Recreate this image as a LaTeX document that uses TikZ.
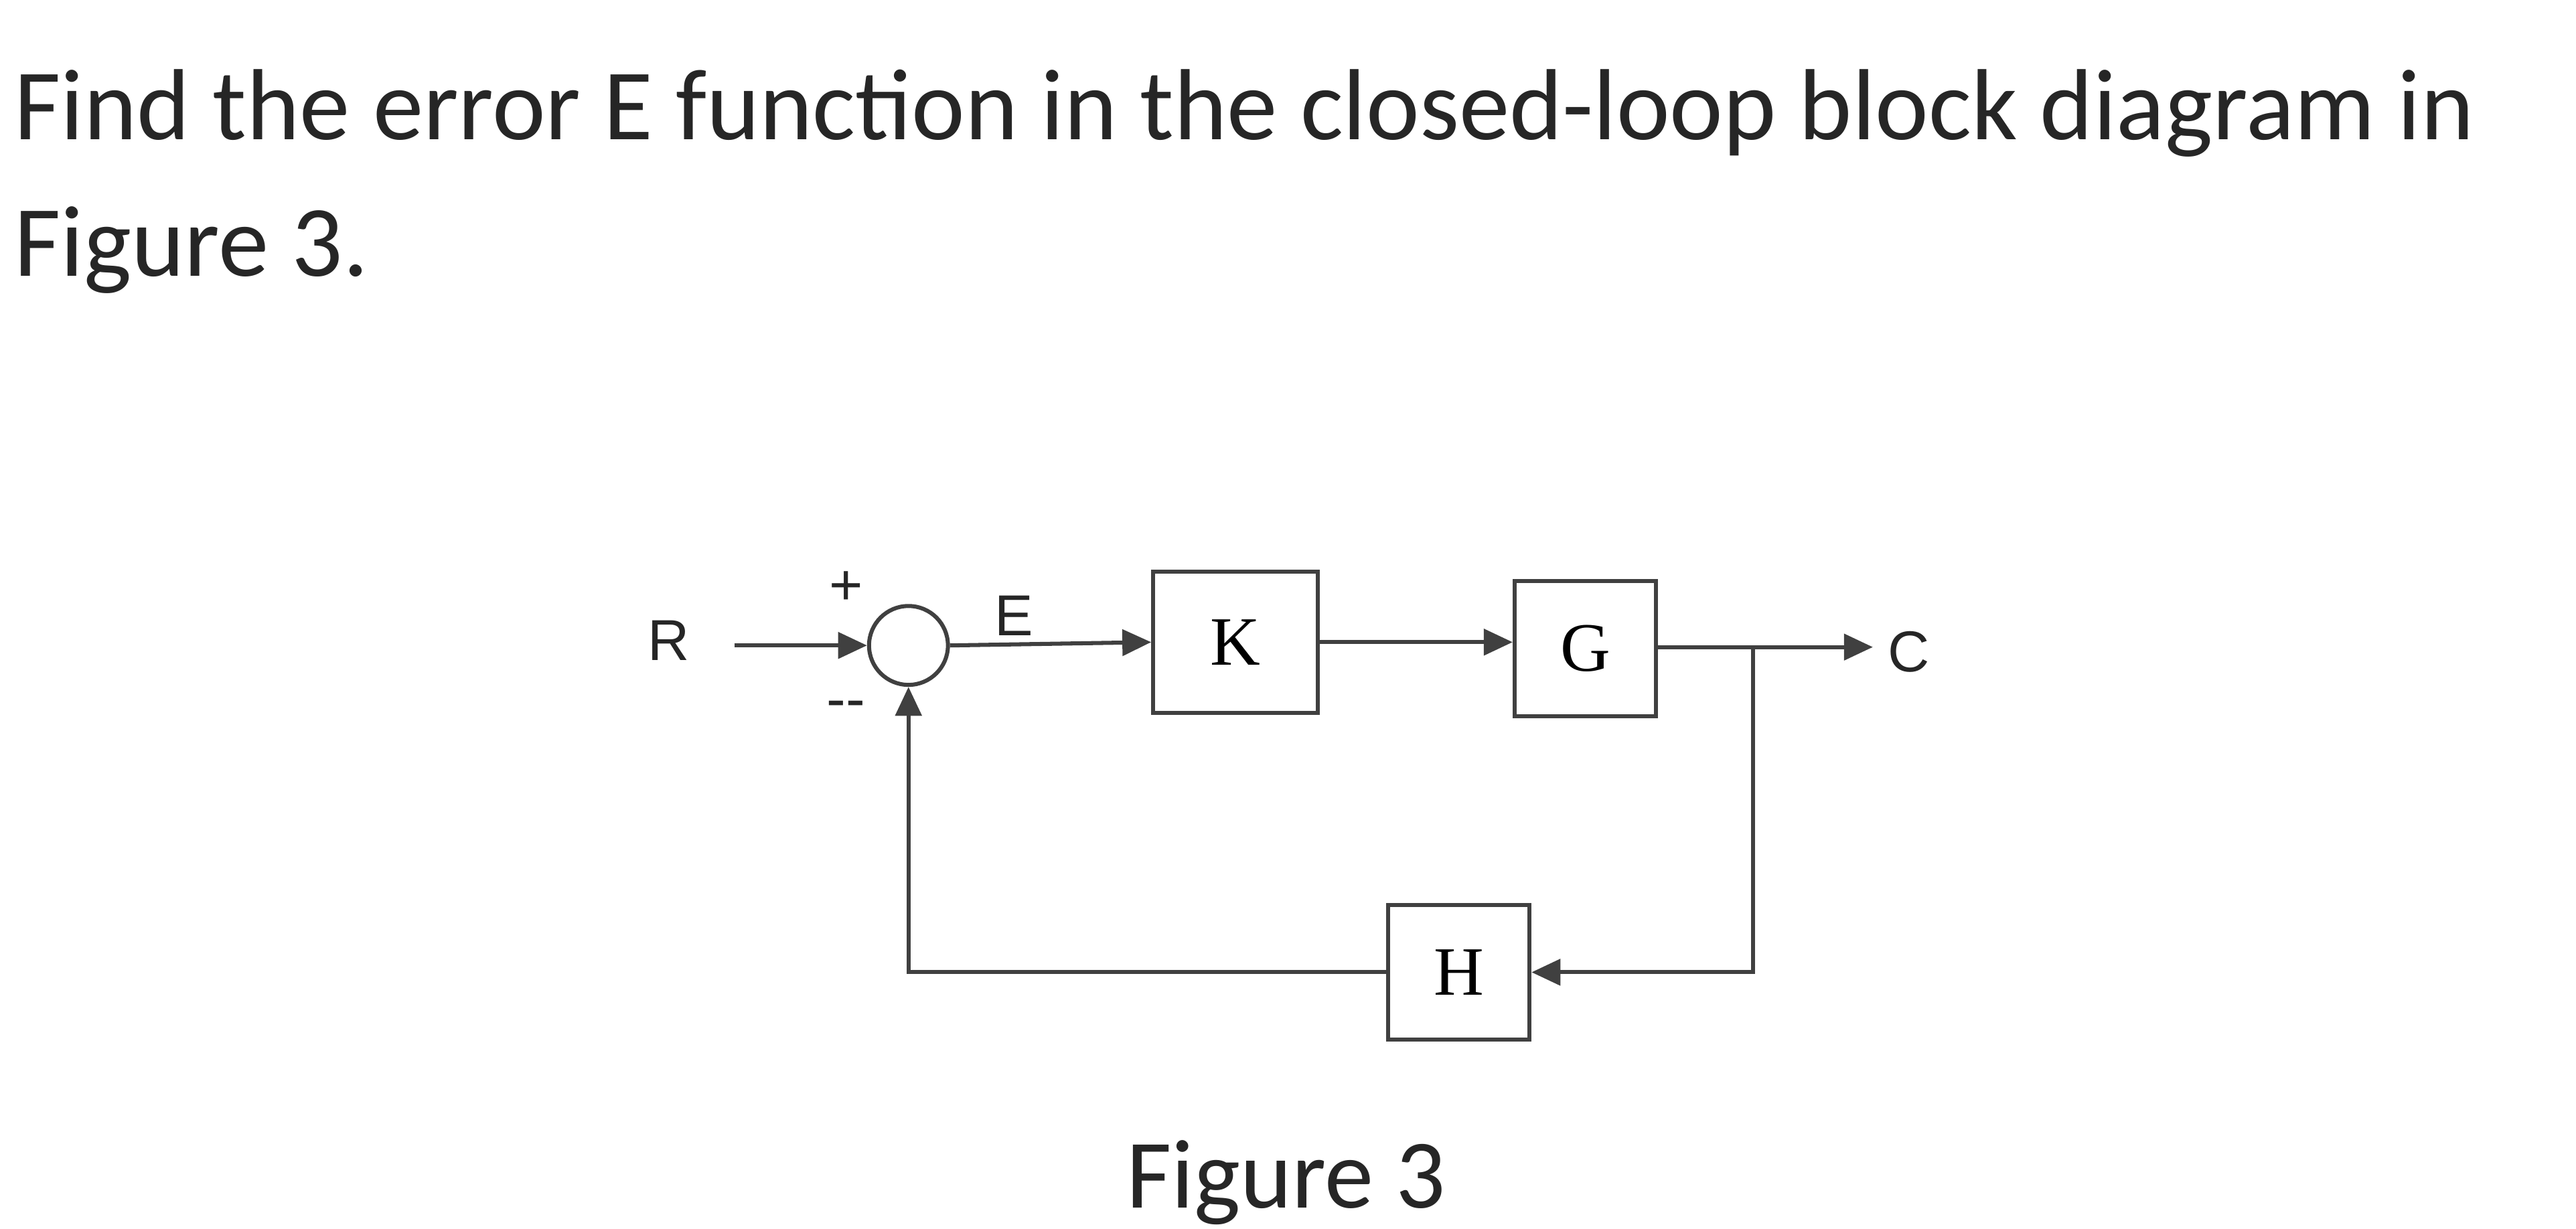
\documentclass[tikz,border=0pt]{standalone}
\usepackage{fontspec}
\setmainfont{Carlito}
\newfontfamily\labfont{Liberation Sans}
\newfontfamily\blkfont{Liberation Serif}
\usetikzlibrary{arrows.meta}
\begin{document}
\begin{tikzpicture}[x=0.01cm,y=-0.01cm,
  line/.style={draw=black!75,line width=0.7pt},
  arr/.style={line,-{Triangle[length=5pt,width=4.5pt]}},
  blk/.style={draw=black!75,line width=0.7pt,minimum width=0.86cm,minimum height=0.82cm,inner sep=0pt,font=\blkfont\fontsize{12}{14}\selectfont},
  lab/.style={font=\labfont\fontsize{10}{12}\selectfont,text=black!85},
  big/.style={font=\fontsize{17.5}{21}\selectfont,anchor=base west,inner sep=0pt,text=black!85}]
\useasboundingbox (0,0) rectangle (1568,748);
% question text
\node[big] (t1) at (8,85) {Find the error E function in the closed-loop block diagram in};
\node[big] (t2) at (8,168) {Figure 3.};
% blocks
\node[circle,draw=black!75,line width=0.7pt,minimum size=0.48cm,inner sep=0pt] (sum) at (553,393) {};
\node[blk,minimum width=1.0cm,minimum height=0.86cm] (K) at (752,391) {K};
\node[blk] (G) at (965,395) {G};
\node[blk] (H) at (888,592) {H};
% labels
\node[lab] (R) at (407,390) {R};
\node[lab] (E) at (617,375) {E};
\node[lab] (C) at (1162,397) {C};
\node[lab] (p) at (515,358) {+};
\node[lab] (m) at (515,432) {--};
\coordinate (rin) at (447,393);
\coordinate (cout) at (1140,394);
\coordinate (br) at (1067,394);
% connectors
\draw[arr] (rin) -- (sum.west);
\draw[arr] (sum.east) -- (K.west);
\draw[arr] (K.east) -- (K.east -| G.west);
\draw[arr] (G.east |- br) -- (cout);
\draw[arr] (br) |- (H.east);
\draw[arr] (H.west) -| (sum.south);
% caption
\node[font=\fontsize{17}{20}\selectfont,text=black!85] (cap) at (783,720) {Figure 3};
\end{tikzpicture}
\end{document}
